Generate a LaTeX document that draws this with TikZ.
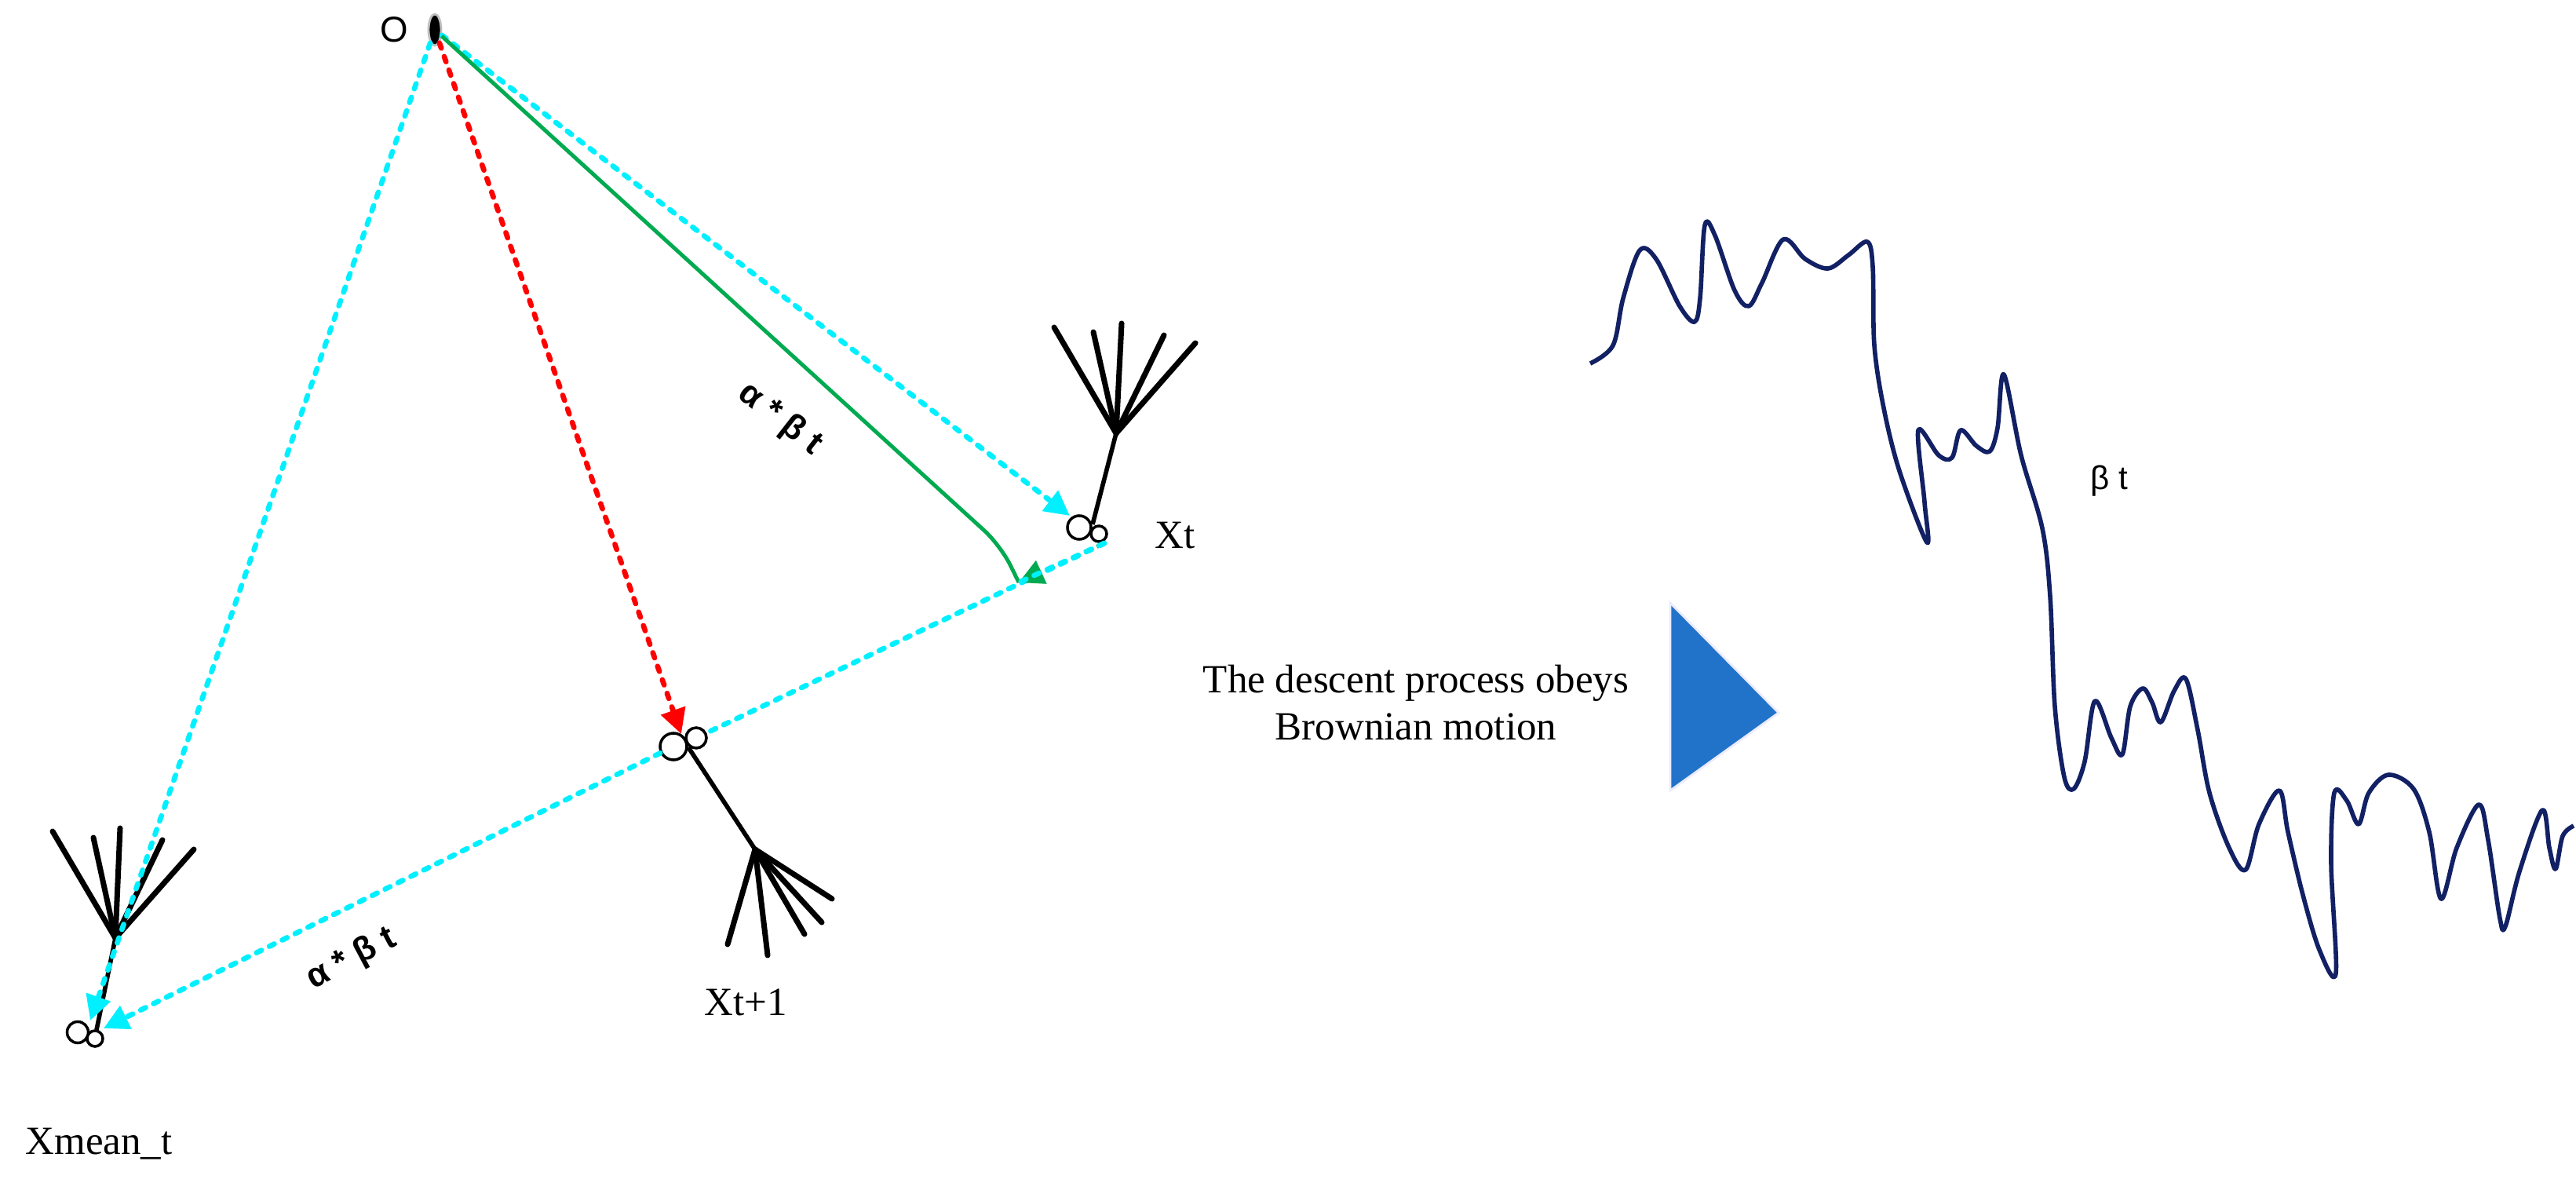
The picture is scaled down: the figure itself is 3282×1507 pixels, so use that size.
\documentclass[tikz,border=0pt]{standalone}
\usepackage{fontspec}
\setmainfont{Liberation Serif}
\newfontfamily\sansf{Liberation Sans}
\usetikzlibrary{arrows.meta,shapes.geometric}
\definecolor{cyn}{RGB}{0,240,255}
\definecolor{grn}{RGB}{0,170,80}
\begin{document}
\begin{tikzpicture}[x=0.01cm,y=-0.01cm,
  fan/.style={line width=2pt,line cap=round},
  stem/.style={line width=1.6pt},
  ring/.style={circle,draw,line width=1pt,inner sep=0pt,fill=white},
  cy/.style={cyn,line width=1.9pt,line cap=round,dash pattern=on 2pt off 3.2pt},
  rd/.style={red,line width=1.9pt,line cap=round,dash pattern=on 2pt off 3.2pt},
  gr/.style={grn,line width=1.4pt},
  tip/.style={-{Triangle[length=9pt,width=9pt]}},
  lbl/.style={font=\fontsize{14.5}{17}\selectfont},
  slbl/.style={font=\sansf\bfseries\fontsize{12.5}{14}\selectfont}]
\useasboundingbox (0,0) rectangle (3282,1507);
% O
\node[ellipse,fill=black,draw=black!25,line width=0.8pt,minimum width=0.16cm,minimum height=0.4cm,inner sep=0pt] (O) at (554,38) {};
\node[font=\sansf\fontsize{13}{15}\selectfont] (Olab) at (502,38) {O};
% Xt
\coordinate (xtj) at (1422,552);
\foreach \p in {(1343,417),(1393,423),(1429,412),(1483,427),(1523,437)} \draw[fan] (xtj) -- \p;
\draw[stem] (xtj) -- (1392,668);
\node[ring,minimum size=0.3cm] (xtA) at (1375,672) {};
\node[ring,minimum size=0.2cm] (xtB) at (1400,680) {};
\coordinate (xtT) at (1363,657);
\node[lbl] (xtL) at (1497,682) {Xt};
% Xt+1
\coordinate (x1j) at (962,1082);
\foreach \p in {(927,1203),(978,1217),(1025,1190),(1047,1175),(1060,1145)} \draw[fan] (x1j) -- \p;
\draw[stem] (x1j) -- (877,952);
\node[ring,minimum size=0.34cm] (x1A) at (858,951) {};
\node[ring,minimum size=0.26cm] (x1B) at (887,940) {};
\coordinate (x1T) at (868,935);
\node[lbl] (x1L) at (950,1277) {Xt+1};
% Xmean
\coordinate (xmj) at (147,1195);
\foreach \p in {(67,1059),(119,1067),(153,1055),(207,1070),(247,1082)} \draw[fan] (xmj) -- \p;
\draw[stem] (xmj) -- (123,1312);
\node[ring,minimum size=0.27cm] (xmA) at (99,1315) {};
\node[ring,minimum size=0.2cm] (xmB) at (121,1323) {};
\coordinate (xmT1) at (115,1300);
\coordinate (xmT2) at (132,1310);
\node[lbl] (xmL) at (126,1457) {Xmean\_t};
% connectors
\coordinate (xtS) at (1407,692);
\coordinate (gc) at (1275,695);
\coordinate (gT) at (1298,742);
\draw[cy,tip] (O) -- (xtT);
\draw[cy,tip] (O) -- (xmT1);
\draw[cy] (xtS) -- (x1B);
\draw[cy,tip] (x1A) -- (xmT2);
\draw[rd,tip] (O) -- (x1T);
\draw[gr,rounded corners=8pt] (O) -- (gc) -- (gT);
\draw[gr,dash pattern=on 3pt off 2pt,tip] (xtS) -- (gT);
\draw[cy] (xtS) -- (gT);
\node[slbl,rotate=-38] (l1) at (994,534) {α * β t};
\node[slbl,rotate=28] (l2) at (448,1222) {α * β t};
% middle
\node[lbl,align=center] (txt) at (1804,895) {The descent process obeys\\Brownian motion};
\draw[fill={rgb,255:red,33;green,115;blue,202},draw=blue!8,line width=0.8pt] (2128,768) -- (2266,908) -- (2128,1007) -- cycle;
% curve
\draw[line width=1.6pt,color={rgb,255:red,18;green,32;blue,100},line join=round] plot[smooth,tension=0.55] coordinates {
(2026,463) (2055,440) (2068,380) (2089,319) (2110,330) (2140,390) (2159,410) (2166,380) (2172,287) (2185,300) (2210,370) (2228,390) (2245,360) (2272,305) (2300,330) (2329,342) (2355,325) (2379,308) (2386,340) (2388,440) (2400,520) (2420,600) (2455,691) (2452,640) (2444,548) (2470,580) (2487,583) (2498,548) (2518,568) (2535,575) (2545,545) (2553,477) (2575,580) (2602,673) (2612,760) (2618,900) (2630,990) (2642,1005) (2656,970) (2669,893) (2690,940) (2704,961) (2714,900) (2730,877) (2742,895) (2753,920) (2770,880) (2785,865) (2800,930) (2815,1010) (2840,1080) (2861,1108) (2878,1050) (2904,1007) (2915,1060) (2934,1140) (2955,1210) (2976,1240) (2970,1100) (2974,1010) (2990,1020) (3005,1050) (3018,1010) (3043,987) (3075,1005) (3095,1060) (3110,1145) (3130,1080) (3158,1025) (3170,1070) (3185,1170) (3192,1180) (3210,1110) (3239,1032) (3248,1080) (3256,1107) (3265,1065) (3279,1052)};
\node[font=\sansf\fontsize{12}{14}\selectfont] (bt) at (2687,613) {β t};
\end{tikzpicture}
\end{document}
